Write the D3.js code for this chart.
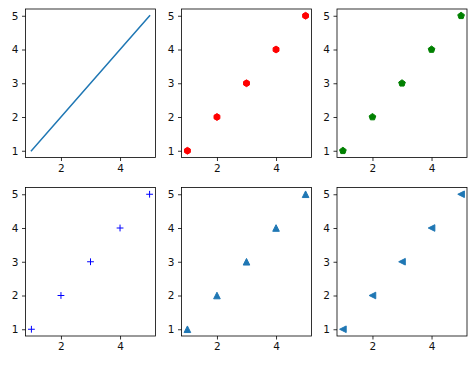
<!DOCTYPE html>
<html>
<head>
<meta charset="utf-8">
<script src="https://cdn.jsdelivr.net/npm/d3@7"></script>
<style>
  body { margin: 0; background: #fff; }
  svg { display: block; }
  .tick text { font-family: "DejaVu Sans", sans-serif; font-size: 10.5px; fill: #111; }
</style>
</head>
<body>
<div id="chart"></div>
<script>
// data
var xValues = [1, 2, 3, 4, 5];
var yValues = [1, 2, 3, 4, 5];
var xTicks = [2, 4];
var yTicks = [1, 2, 3, 4, 5];

// one entry per subplot: kind of mark, colour
var panels = [
    { kind: "line", color: "#1f77b4" },
    { kind: "hexagon", color: "#ff0000" },
    { kind: "pentagon", color: "#008000" },
    { kind: "plus", color: "#0000ff" },
    { kind: "triUp", color: "#1f77b4" },
    { kind: "triLeft", color: "#1f77b4" }
];

var width = 474, height = 366;
var colLeft = [25.5, 181.5, 337];
var rowTop = [9, 187.5];
var plotW = 130, plotH = 148.5;

var svg = d3.select("#chart").append("svg")
    .attr("width", width).attr("height", height);
svg.append("rect").attr("width", width).attr("height", height).attr("fill", "#fff");

function polygon(n, r, rot) {
    var pts = [];
    for (var i = 0; i < n; i++) {
        var a = rot + i * 2 * Math.PI / n;
        pts.push([r * Math.sin(a), -r * Math.cos(a)]);
    }
    return "M" + pts.map(function(p) { return p[0].toFixed(2) + "," + p[1].toFixed(2); }).join("L") + "Z";
}

var markerPath = {
    hexagon: polygon(6, 3.4, 0),
    pentagon: polygon(5, 3.5, 0),
    triUp: "M0,-3.3L-3.3,3.3L3.3,3.3Z",
    triLeft: "M-3.3,0L3.3,-3.3L3.3,3.3Z",
    plus: "M-3.4,0L3.4,0M0,-3.4L0,3.4"
};

panels.forEach(function(p, i) {
    var left = colLeft[i % 3], top = rowTop[Math.floor(i / 3)];
    var g = svg.append("g").attr("transform", "translate(" + left + "," + top + ")");

    var x = d3.scaleLinear().domain([0.8, 5.2]).range([0, plotW]);
    var y = d3.scaleLinear().domain([0.8, 5.2]).range([plotH, 0]);

    var pts = xValues.map(function(v, k) { return [v, yValues[k]]; });

    if (p.kind === "line") {
        g.append("path")
            .attr("d", d3.line().x(function(d) { return x(d[0]); }).y(function(d) { return y(d[1]); })(pts))
            .attr("fill", "none").attr("stroke", p.color).attr("stroke-width", 1.5)
            .attr("stroke-linecap", "square");
    } else {
        g.selectAll("path.mk").data(pts).enter().append("path")
            .attr("class", "mk")
            .attr("transform", function(d) { return "translate(" + x(d[0]) + "," + y(d[1]) + ")"; })
            .attr("d", markerPath[p.kind])
            .attr("fill", p.kind === "plus" ? "none" : p.color)
            .attr("stroke", p.color)
            .attr("stroke-width", 1)
            .attr("stroke-linejoin", "miter");
    }

    var xAxis = g.append("g").attr("transform", "translate(0," + plotH + ")")
        .call(d3.axisBottom(x).tickValues(xTicks).tickSize(3.5).tickPadding(3.5).tickFormat(d3.format("d")));
    var yAxis = g.append("g")
        .call(d3.axisLeft(y).tickValues(yTicks).tickSize(3.5).tickPadding(3.5).tickFormat(d3.format("d")));
    [xAxis, yAxis].forEach(function(a) {
        a.select(".domain").remove();
        a.selectAll(".tick line").attr("stroke", "#000").attr("stroke-width", 0.8);
        a.attr("font-size", null).attr("font-family", null);
    });

    g.append("rect").attr("width", plotW).attr("height", plotH)
        .attr("fill", "none").attr("stroke", "#000").attr("stroke-width", 0.8);
});
</script>
</body>
</html>
